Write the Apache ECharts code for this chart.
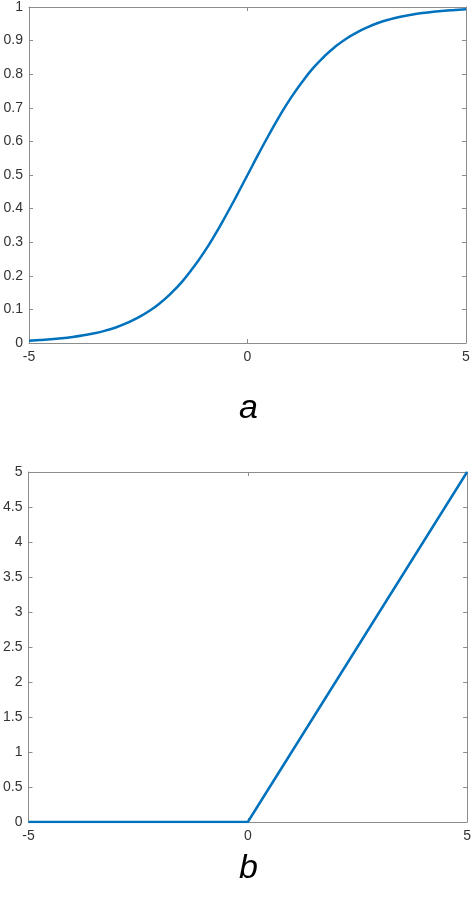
<!DOCTYPE html>
<html><head><meta charset="utf-8">
<script src="https://cdn.jsdelivr.net/npm/echarts@6/dist/echarts.min.js"></script>
<style>html,body{margin:0;padding:0;background:#fff}#c{width:474px;height:898px}</style>
</head><body><div id="c"></div>
<script>
// data
var sigX = [-5,-4.75,-4.5,-4.25,-4,-3.75,-3.5,-3.25,-3,-2.75,-2.5,-2.25,-2,-1.75,-1.5,-1.25,-1,-0.75,-0.5,-0.25,0,0.25,0.5,0.75,1,1.25,1.5,1.75,2,2.25,2.5,2.75,3,3.25,3.5,3.75,4,4.25,4.5,4.75,5];
var sigY = [0.007,0.009,0.011,0.014,0.018,0.023,0.029,0.037,0.047,0.060,0.076,0.095,0.119,0.148,0.182,0.223,0.269,0.321,0.378,0.438,0.5,0.562,0.622,0.679,0.731,0.777,0.818,0.852,0.881,0.905,0.924,0.940,0.953,0.963,0.971,0.977,0.982,0.986,0.989,0.991,0.993];
var reluX = [-5, 0, 5];
var reluY = [0, 0, 5];
var panelLabels = ['a', 'b'];

var frame = '#8c8c8c', txt = '#333333', blue = '#0072BD';
var font = 'Liberation Sans';
function pairs(xs, ys){ return xs.map(function(x,i){ return [x, ys[i]]; }); }
function xAxes(gi){
  return [
    {gridIndex: gi, type:'value', min:-5, max:5, interval:5, position:'bottom',
     axisLine:{onZero:false, lineStyle:{color:frame, width:1}}, axisTick:{inside:true, length:4, lineStyle:{color:frame}},
     axisLabel:{color:txt, fontSize:14, fontFamily:font, margin:7}, splitLine:{show:false}},
    {gridIndex: gi, type:'value', min:-5, max:5, interval:5, position:'top',
     axisLine:{onZero:false, lineStyle:{color:frame, width:1}}, axisTick:{inside:true, length:4, lineStyle:{color:frame}},
     axisLabel:{show:false}, splitLine:{show:false}}
  ];
}
function yAxes(gi, max, iv){
  return [
    {gridIndex: gi, type:'value', min:0, max:max, interval:iv, position:'left',
     axisLine:{show:true, onZero:false, lineStyle:{color:frame, width:1}}, axisTick:{show:true, inside:true, length:4, lineStyle:{color:frame}},
     axisLabel:{color:txt, fontSize:14, fontFamily:font, margin:6}, splitLine:{show:false}},
    {gridIndex: gi, type:'value', min:0, max:max, interval:iv, position:'right',
     axisLine:{show:true, onZero:false, lineStyle:{color:frame, width:1}}, axisTick:{show:true, inside:true, length:4, lineStyle:{color:frame}},
     axisLabel:{show:false}, splitLine:{show:false}}
  ];
}
var chart = echarts.init(document.getElementById('c'), null, {renderer:'canvas'});
chart.setOption({
  animation:false,
  backgroundColor:'#fff',
  graphic:[
    {type:'text', left:239, top:392, style:{text: panelLabels[0], font:'italic 34px "Liberation Sans"', fill:'#000'}},
    {type:'text', left:239, top:852, style:{text: panelLabels[1], font:'italic 34px "Liberation Sans"', fill:'#000'}}
  ],
  grid:[
    {left:29, top:5, right:8, height:338},
    {left:25, top:472, right:4, height:350}
  ],
  xAxis: xAxes(0).concat(xAxes(1)),
  yAxis: yAxes(0, 1, 0.1).concat(yAxes(1, 5, 0.5)),
  series:[
    {type:'line', xAxisIndex:0, yAxisIndex:0, data: pairs(sigX, sigY), smooth:true, showSymbol:false,
     lineStyle:{color:blue, width:2.5}},
    {type:'line', xAxisIndex:2, yAxisIndex:2, data: pairs(reluX, reluY), showSymbol:false,
     lineStyle:{color:blue, width:2.5}}
  ]
});
</script></body></html>
